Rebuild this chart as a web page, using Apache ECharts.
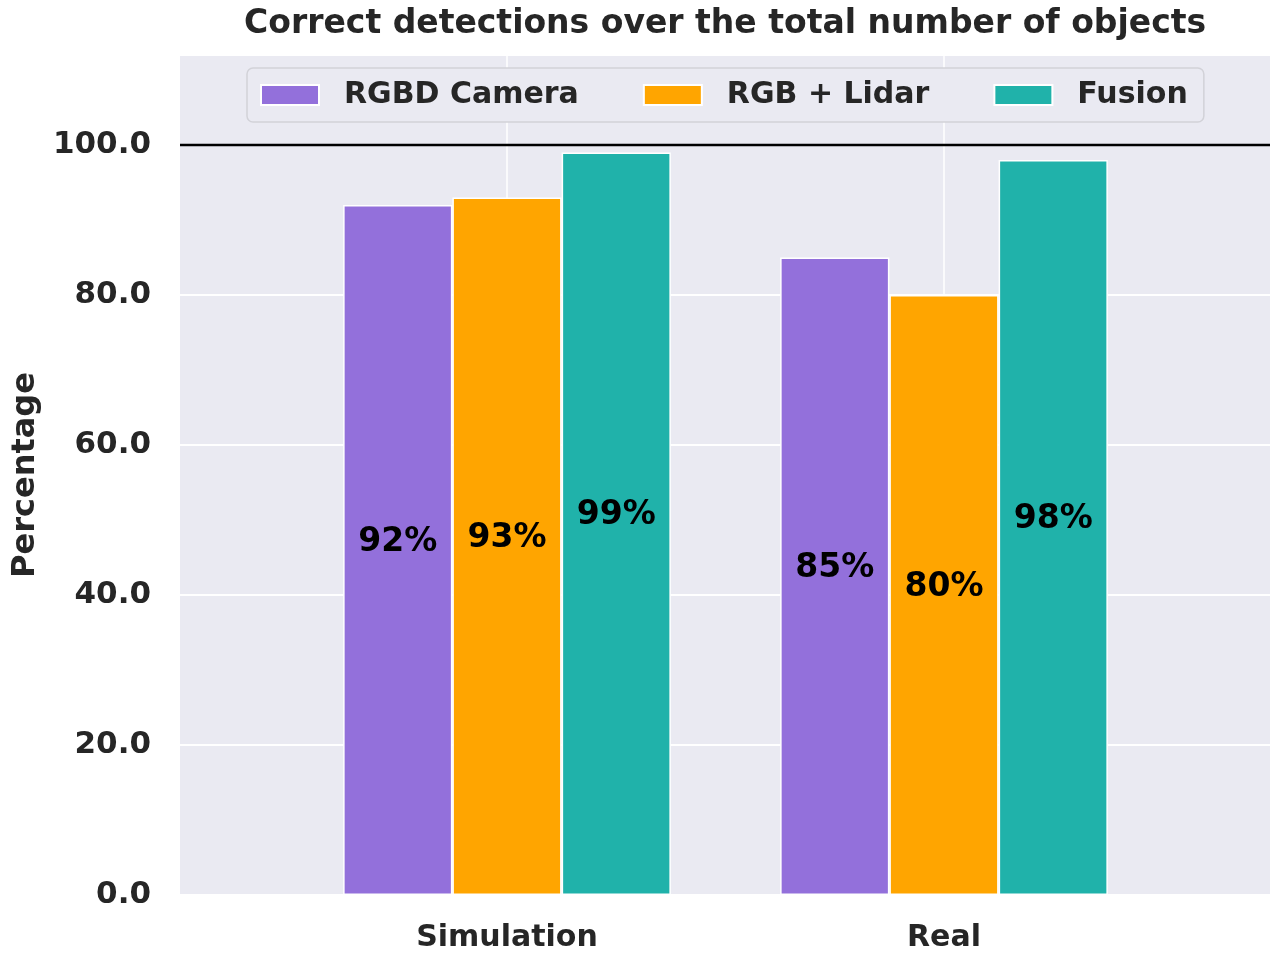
<!DOCTYPE html>
<html>
<head>
<meta charset="utf-8">
<script src="https://cdn.jsdelivr.net/npm/echarts@6/dist/echarts.min.js"></script>
<style>
  html, body { margin: 0; padding: 0; background: #fff; }
  #main { width: 1280px; height: 960px; }
</style>
</head>
<body>
<div id="main"></div>
<script>
// data
var categories = ['Simulation', 'Real'];
var rgbd = [92, 85];
var rgbLidar = [93, 80];
var fusion = [99, 98];
var refLevel = 100;
var yTicks = [0, 20, 40, 60, 80, 100];

var font = 'DejaVu Sans';
var dark = '#262626';

var chart = echarts.init(document.getElementById('main'));

// bar label shared style
function barLabel() {
  return {
    show: true,
    position: 'inside',
    offset: [0, -8],
    formatter: '{c}%',
    color: '#000',
    fontFamily: font,
    fontWeight: 'bold',
    fontSize: 33
  };
}

var option = {
  backgroundColor: '#fff',
  animation: false,
  title: {
    text: 'Correct detections over the total number of objects',
    left: 239,
    top: 3,
    textStyle: { fontFamily: font, fontWeight: 'bold', fontSize: 33, color: dark }
  },
  legend: {
    data: ['RGBD Camera', 'RGB + Lidar', 'Fusion'],
    left: 247,
    top: 68,
    padding: [12, 16, 12, 13],
    icon: 'rect',
    itemWidth: 58,
    itemHeight: 20,
    itemGap: 64,
    backgroundColor: '#eaeaf2',
    borderColor: '#d2d2d8',
    borderWidth: 1.5,
    borderRadius: 6,
    textStyle: { fontFamily: font, fontWeight: 'bold', fontSize: 30, color: dark, padding: [0, 0, 0, 20] },
    z: 10
  },
  grid: [
    // background + y axis
    { left: 180, right: 10, top: 55, bottom: 65, show: true, backgroundColor: '#eaeaf2', borderWidth: 0 },
    // vertical white lines at the category centres
    { left: 507, right: 336, top: 55, bottom: 65 },
    // bars
    { left: 288.5, right: 117.5, top: 55, bottom: 65 }
  ],
  xAxis: [
    { gridIndex: 0, type: 'value', min: 0, max: 1, show: false },
    {
      gridIndex: 1, type: 'value', min: 0, max: 1, interval: 1,
      axisLine: { show: false }, axisTick: { show: false }, axisLabel: { show: false },
      splitLine: { show: true, lineStyle: { color: '#fff', width: 1.5 } }
    },
    {
      gridIndex: 2, type: 'category', data: categories,
      axisLine: { show: false }, axisTick: { show: false },
      axisLabel: { margin: 28, fontFamily: font, fontWeight: 'bold', fontSize: 30, color: dark }
    }
  ],
  yAxis: [
    {
      gridIndex: 0, type: 'value', min: 0, max: 112, interval: 20,
      name: 'Percentage',
      nameLocation: 'middle',
      nameGap: 135,
      nameTextStyle: { fontFamily: font, fontWeight: 'bold', fontSize: 32, color: dark },
      axisLine: { show: false }, axisTick: { show: false },
      axisLabel: {
        margin: 29, fontFamily: font, fontWeight: 'bold', fontSize: 31, color: dark,
        showMaxLabel: false,
        formatter: function (v) { return yTicks.indexOf(v) >= 0 ? v.toFixed(1) : ''; }
      },
      splitLine: { show: true, lineStyle: { color: '#fff', width: 2 } }
    },
    { gridIndex: 1, type: 'value', min: 0, max: 112, show: false },
    { gridIndex: 2, type: 'value', min: 0, max: 112, show: false }
  ],
  series: [
    {
      name: 'ref', type: 'line', xAxisIndex: 0, yAxisIndex: 0,
      data: [[0, refLevel], [1, refLevel]],
      symbol: 'none', silent: true,
      lineStyle: { color: '#000', width: 2.5 }
    },
    {
      name: 'RGBD Camera', type: 'bar', xAxisIndex: 2, yAxisIndex: 2,
      data: rgbd, barGap: '0%', barCategoryGap: '25%',
      itemStyle: { color: '#9370db', borderColor: '#fff', borderWidth: 1.5 },
      label: barLabel()
    },
    {
      name: 'RGB + Lidar', type: 'bar', xAxisIndex: 2, yAxisIndex: 2,
      data: rgbLidar, barGap: '0%', barCategoryGap: '25%',
      itemStyle: { color: '#ffa500', borderColor: '#fff', borderWidth: 1.5 },
      label: barLabel()
    },
    {
      name: 'Fusion', type: 'bar', xAxisIndex: 2, yAxisIndex: 2,
      data: fusion, barGap: '0%', barCategoryGap: '25%',
      itemStyle: { color: '#20b2aa', borderColor: '#fff', borderWidth: 1.5 },
      label: barLabel()
    }
  ]
};

chart.setOption(option);
</script>
</body>
</html>
